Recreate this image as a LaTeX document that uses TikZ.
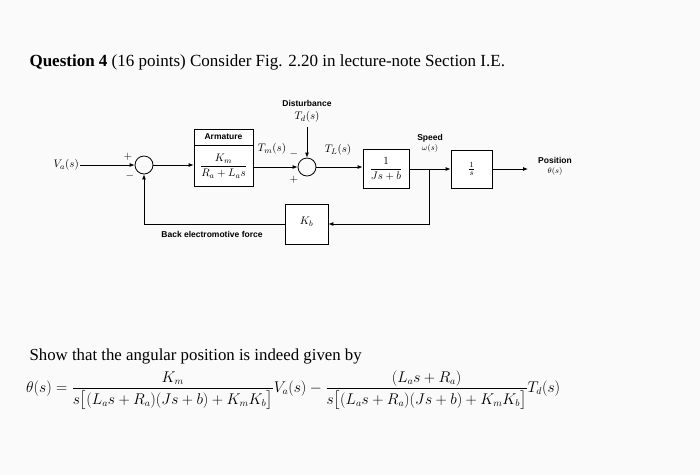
\documentclass[tikz,border=0pt]{standalone}
\usepackage{amsmath}
\usepackage{graphicx}
\usepackage{fontspec}
\setmainfont{Liberation Serif}
\setsansfont{Liberation Sans}
\usetikzlibrary{arrows.meta}
\begin{document}
\begin{tikzpicture}[x=1pt,y=-1pt,
  blk/.style={draw,thick,fill=white,inner sep=0pt},
  sumj/.style={draw,thick,circle,minimum size=18pt,inner sep=0pt},
  lab/.style={font=\sffamily\bfseries\fontsize{8.5}{9}\selectfont,inner sep=1pt},
  ml/.style={font=\fontsize{11}{12}\selectfont,inner sep=1pt},
  sig/.style={thick,-{Latex[length=5pt,width=4pt]}}]
\useasboundingbox[fill=white!96!gray] (0,0) rectangle (700,475);
\node[anchor=west,font=\fontsize{17}{20}\selectfont] (q) at (26,62) {\textbf{Question 4} (16 points) Consider Fig. 2.20 in lecture-note Section I.E.};
% diagram
\node[ml,anchor=east] (va) at (80,165) {$V_a(s)$};
\node[sumj] (s1) at (144,165) {};
\node[blk,minimum width=59pt,minimum height=57pt] (arm) at (223.5,157.5) {};
\draw[thick] (194,145) -- (253,145);
\node[lab] (armt) at (223.5,137) {Armature};
\node[ml] (armf) at (223.5,166) {$\dfrac{K_m}{R_a+L_a s}$};
\node[sumj] (s2) at (307,167) {};
\node[lab] (dist) at (307,103) {Disturbance};
\node[ml] (td) at (307,117) {$T_d(s)$};
\coordinate (tdtop) at (307,127);
\node[blk,minimum width=46pt,minimum height=39pt] (g1) at (386,168.5) {};
\node[ml] (g1f) at (386,168.5) {$\dfrac{1}{Js+b}$};
\node[blk,minimum width=41pt,minimum height=38pt] (g2) at (471.5,169) {};
\node[ml] (g2f) at (471.5,169) {$\frac{1}{s}$};
\coordinate (out) at (528,169);
\node[lab,align=center] (pos) at (555,166) {Position\\[1pt]$\theta(s)$};
\node[blk,minimum width=43pt,minimum height=40pt] (kb) at (306.5,224) {};
\node[ml] (kbf) at (306.5,222) {$K_b$};
\coordinate (br) at (429,169);
\node[ml] (tm) at (272,149) {$T_m(s)$};
\node[ml] (tl) at (338,150) {$T_L(s)$};
\node[lab,align=center] (spd) at (430,143) {Speed\\[1pt]$\omega(s)$};
\node[lab] (bemf) at (212,234) {Back electromotive force};
\node[ml] (p1) at (128,157) {$+$};
\node[ml] (m1) at (130,176) {$-$};
\node[ml] (m2) at (294,154) {$-$};
\node[ml] (p2) at (294,180) {$+$};
% connectors
\draw[sig] (va) -- (s1);
\draw[sig] (s1) -- (arm.west|-s1);
\draw[sig] (arm.east|-s2) -- (s2);
\draw[sig] (tdtop) -- (s2);
\draw[sig] (s2) -- (g1.west|-s2);
\draw[sig] (g1.east|-br) -- (g2.west|-br);
\draw[sig] (g2) -- (out);
\draw[sig] (br) |- (kb.east);
\draw[sig] (kb.west) -| (s1);
% text below
\node[anchor=west,font=\fontsize{16.8}{20}\selectfont] (show) at (26,356) {Show that the angular position is indeed given by};
\node[anchor=west,font=\fontsize{16}{18}\selectfont,inner sep=0pt] (eq) at (26,390) {\resizebox{534pt}{!}{$\theta(s)=\dfrac{K_m}{s\bigl[(L_a s+R_a)(Js+b)+K_mK_b\bigr]}V_a(s)-\dfrac{(L_a s+R_a)}{s\bigl[(L_a s+R_a)(Js+b)+K_mK_b\bigr]}T_d(s)$}};
\end{tikzpicture}
\end{document}
